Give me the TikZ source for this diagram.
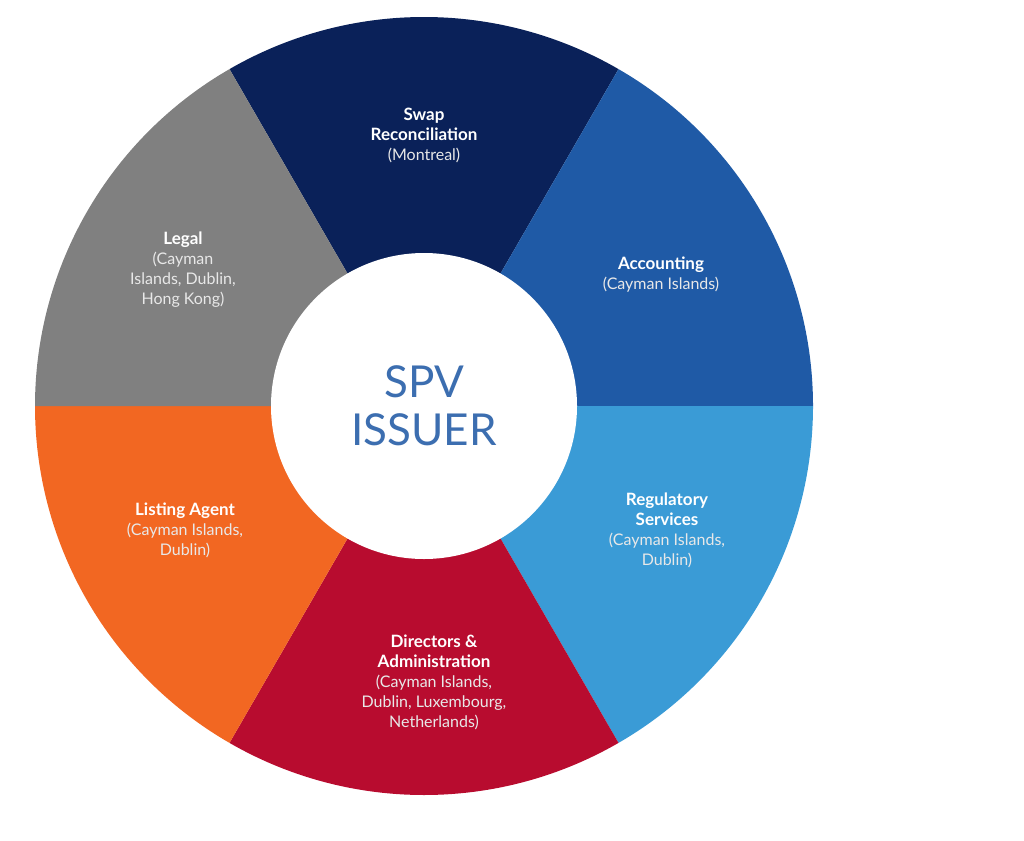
\documentclass[tikz,border=0pt]{standalone}
\usepackage{fontspec}
\setmainfont{Lato}
\newcommand\subt[1]{{\fontsize{16}{19}\selectfont\mdseries\color{white!82!gray}#1}}
\begin{document}
\begin{tikzpicture}[x=1pt,y=1pt,
  lab/.style={align=center,text=white,font=\fontsize{17}{20}\selectfont\bfseries}]
\useasboundingbox (0,0) rectangle (1024,-840);
\coordinate (c) at (424,-406);
\def\R{389}\def\r{153}
\foreach \a/\col in {60/0A2159,0/1F5AA6,-60/3A9BD6,-120/B80C2F,180/F26722,120/808080}{
  \definecolor{cc}{HTML}{\col}
  \fill[cc] (c) -- ++(\a:\R) arc[start angle=\a,delta angle=60,radius=\R] -- cycle;
}
\fill[white] (c) circle[radius=\r];
\node[align=center,text={rgb,255:red,60;green,110;blue,176},font=\fontsize{44}{48}\selectfont] (ctr) at (c) {SPV\\ISSUER};
\node[lab] (swap) at (424,-135) {Swap\\Reconciliation\\\subt{(Montreal)}};
\node[lab] (acc) at (661,-275) {Accounting\\\subt{(Cayman Islands)}};
\node[lab] (reg) at (667,-530) {Regulatory\\Services\\\subt{(Cayman Islands,}\\\subt{Dublin)}};
\node[lab] (dir) at (434,-682) {Directors \&\\Administration\\\subt{(Cayman Islands,}\\\subt{Dublin, Luxembourg,}\\\subt{Netherlands)}};
\node[lab] (list) at (185,-530) {Listing Agent\\\subt{(Cayman Islands,}\\\subt{Dublin)}};
\node[lab] (legal) at (183,-270) {Legal\\\subt{(Cayman}\\\subt{Islands, Dublin,}\\\subt{Hong Kong)}};
\end{tikzpicture}
\end{document}
